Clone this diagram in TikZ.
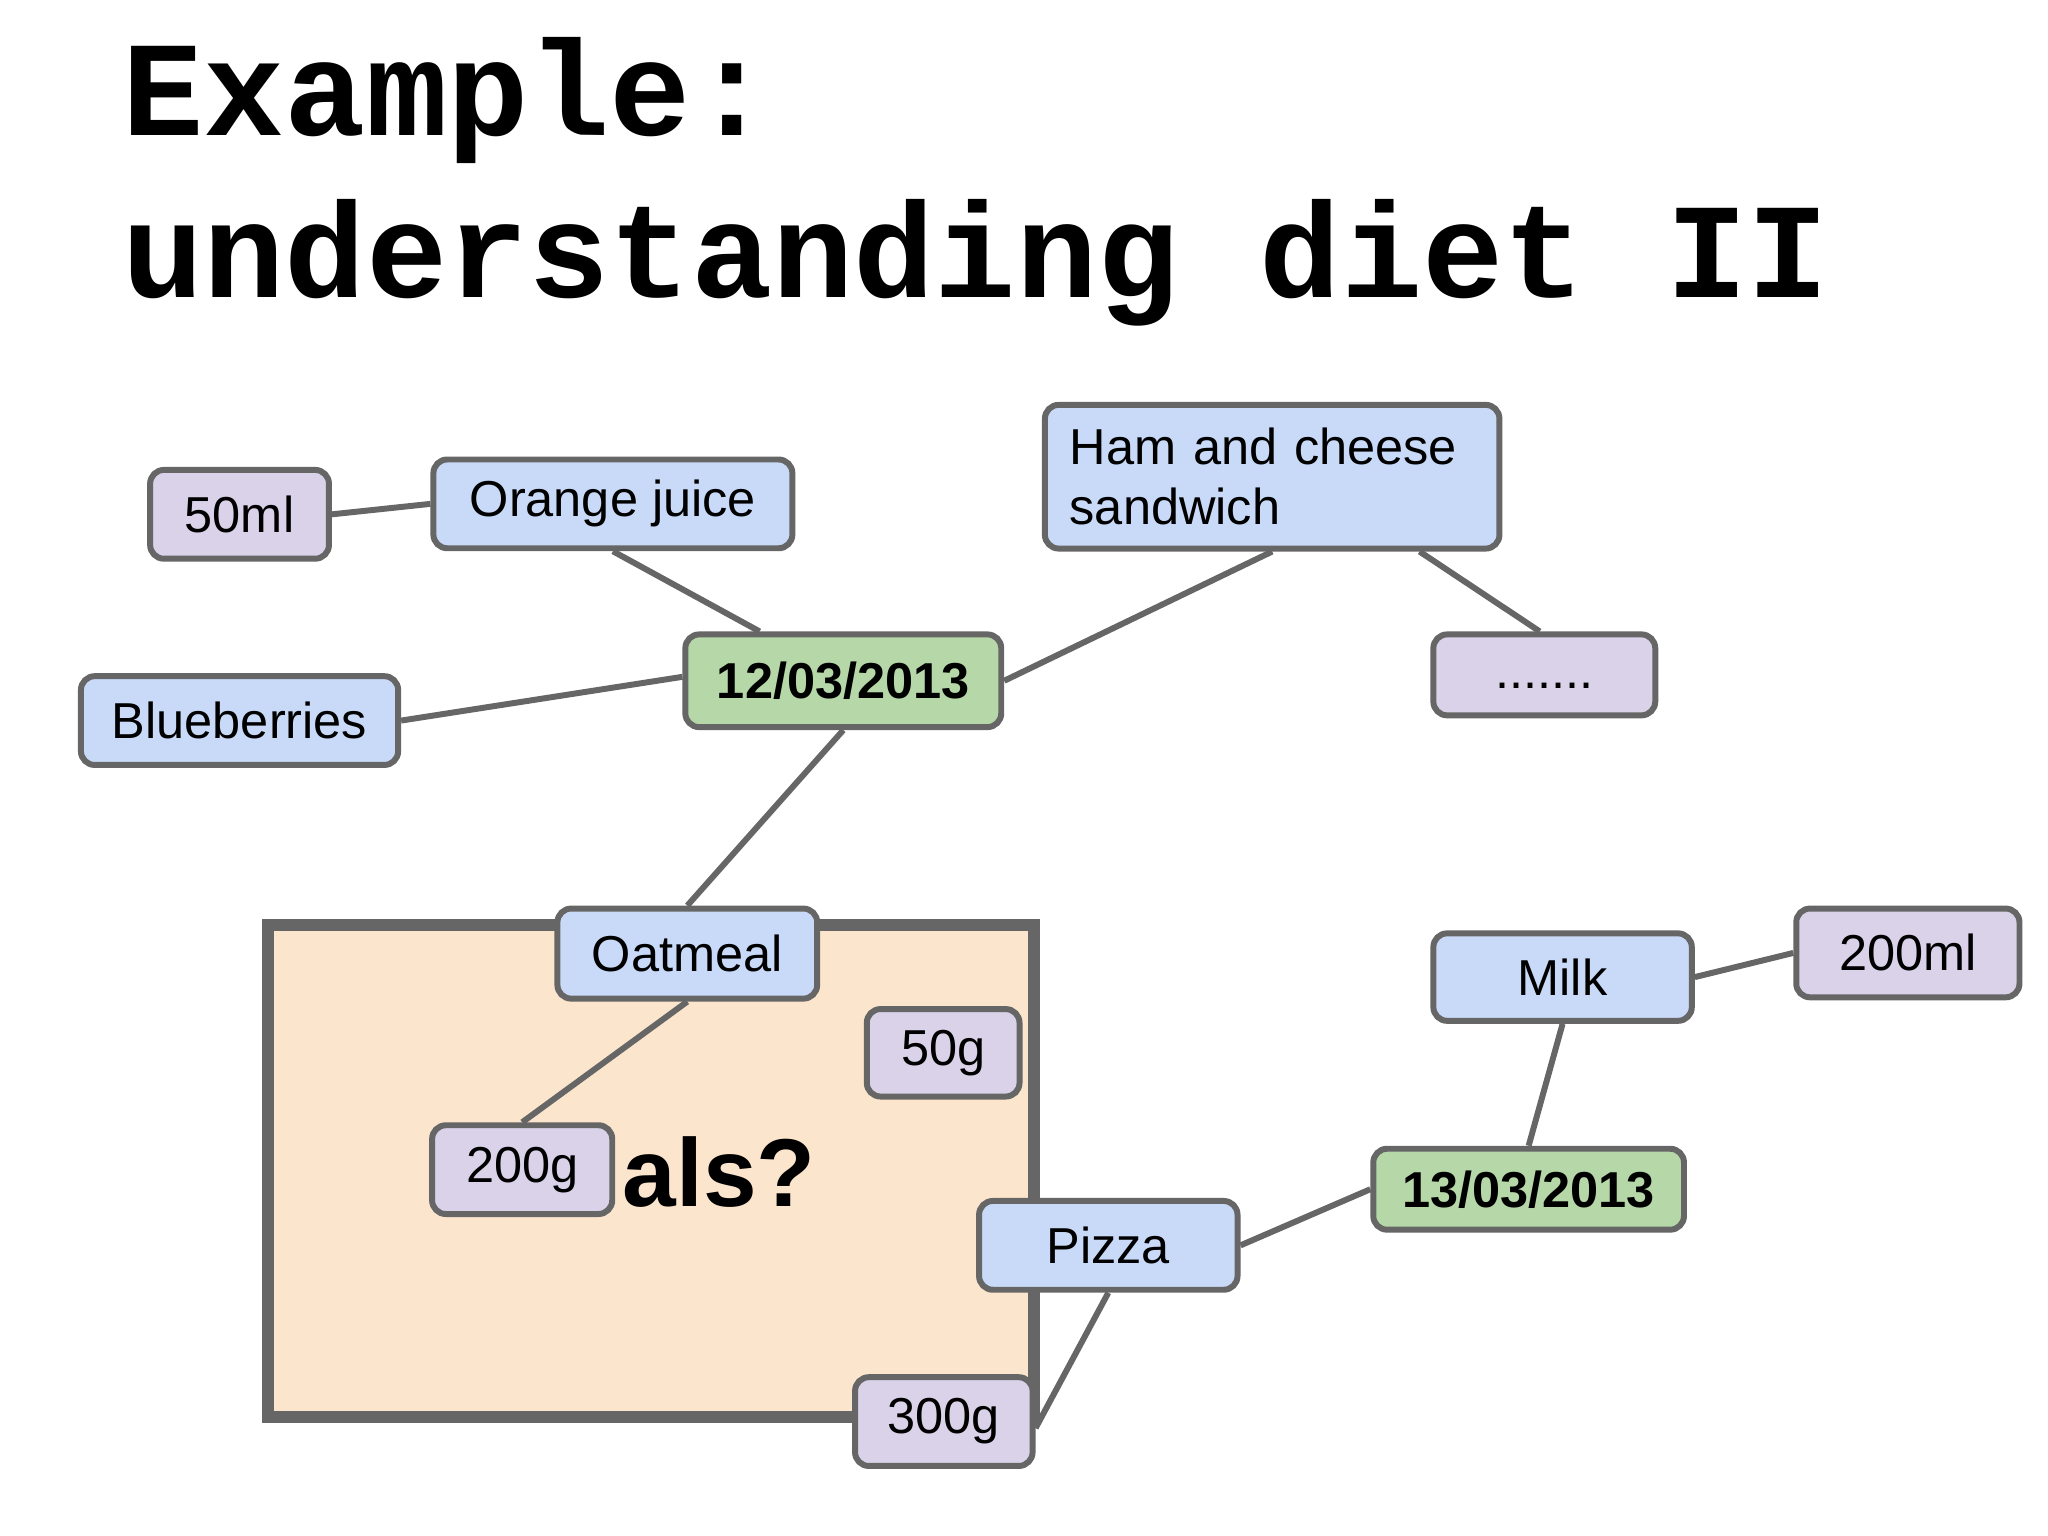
\documentclass[tikz,border=0pt]{standalone}
\usepackage{fontspec}
\setmainfont{Liberation Sans}
\newfontfamily\monob{Liberation Mono}
\usetikzlibrary{calc,backgrounds}
\definecolor{bfill}{HTML}{C9DAF8}
\definecolor{pfill}{HTML}{D9D2E9}
\definecolor{gfill}{HTML}{B6D7A8}
\definecolor{ofill}{HTML}{FCE5CD}
\definecolor{edge}{HTML}{666666}
\tikzset{
 box/.style={draw=edge,line width=1.3pt,rounded corners=3pt,inner sep=0pt,font=\fontsize{11}{13}\selectfont},
 bluebox/.style={box,fill=bfill},
 purbox/.style={box,fill=pfill},
 grnbox/.style={box,fill=gfill,font=\fontsize{11}{13}\selectfont\bfseries},
 conn/.style={draw=edge,line width=1.3pt}
}
\newcommand\bx[7]{\node[#6,minimum width={(#4-#2)*0.01cm},minimum height={(#5-#3)*0.01cm}] (#1) at ({(#2+#4)/2*0.01},{-(#3+#5)/2*0.01}) {#7};}
\begin{document}
\begin{tikzpicture}
\useasboundingbox (0,0) rectangle (15.68,-11.76);
\node[anchor=base west,inner sep=0pt,font=\monob\bfseries\fontsize{29.5}{30}\selectfont] (t1) at (0.93,-1.04) {Example:};
\node[anchor=base west,inner sep=0pt,font=\monob\bfseries\fontsize{29.5}{30}\selectfont] (t2) at (0.93,-2.28) {understanding diet II};
\bx{ml50}{115}{360}{252}{428}{purbox}{50ml}
\bx{oj}{332}{352}{607}{420}{bluebox}{Orange juice}
\node[bluebox,minimum width=3.48cm,minimum height=1.10cm,align=left,text width=3.1cm] (ham) at (9.74,-3.65) {Ham and cheese\\sandwich};
\bx{d1}{525}{486}{767}{557}{grnbox}{12/03/2013}
\bx{dots}{1098}{486}{1268}{548}{purbox}{\raisebox{-1ex}{.......}}
\bx{blue}{62}{518}{305}{586}{bluebox}{Blueberries}
\bx{oat}{427}{696}{626}{765}{bluebox}{Oatmeal}
\bx{g50}{664}{773}{781}{840}{purbox}{50g}
\bx{g200}{331}{862}{469}{930}{purbox}{200g}
\node[anchor=west,inner sep=0pt,font=\bfseries\fontsize{21}{24}\selectfont] (als) at (4.76,-8.97) {als?};
\bx{pizza}{750}{920}{948}{988}{bluebox}{Pizza}
\bx{g300}{655}{1055}{791}{1123}{purbox}{300g}
\bx{milk}{1098}{715}{1296}{782}{bluebox}{Milk}
\bx{ml200}{1376}{696}{1547}{764}{purbox}{200ml}
\bx{d2}{1052}{880}{1290}{942}{grnbox}{13/03/2013}
\begin{pgfonlayer}{background}
\draw[draw=edge,fill=ofill,line width=2.6pt] (2.05,-7.08) rectangle (7.92,-10.85);
\draw[conn] (ml50.east) -- (oj.west);
\draw[conn] ($(oj.south west)!0.5!(oj.south east)$) -- ($(d1.north west)!0.24!(d1.north east)$);
\draw[conn] (blue.east) -- ($(d1.west)+(0,0.03)$);
\draw[conn] (d1.east) -- ($(ham.south west)!0.5!(ham.south east)$);
\draw[conn] ($(ham.south west)!0.82!(ham.south east)$) -- ($(dots.north west)!0.48!(dots.north east)$);
\draw[conn] ($(d1.south west)!0.5!(d1.south east)$) -- ($(oat.north west)!0.5!(oat.north east)$);
\draw[conn] ($(oat.south west)!0.5!(oat.south east)$) -- ($(g200.north west)!0.5!(g200.north east)$);
\draw[conn] ($(pizza.south west)!0.5!(pizza.south east)$) -- ($(g300.east)+(0,-0.05)$);
\draw[conn] ($(pizza.east)$) -- (d2.west);
\draw[conn] ($(d2.north west)!0.5!(d2.north east)$) -- ($(milk.south west)!0.5!(milk.south east)$);
\draw[conn] (milk.east) -- (ml200.west);
\end{pgfonlayer}
\end{tikzpicture}
\end{document}
